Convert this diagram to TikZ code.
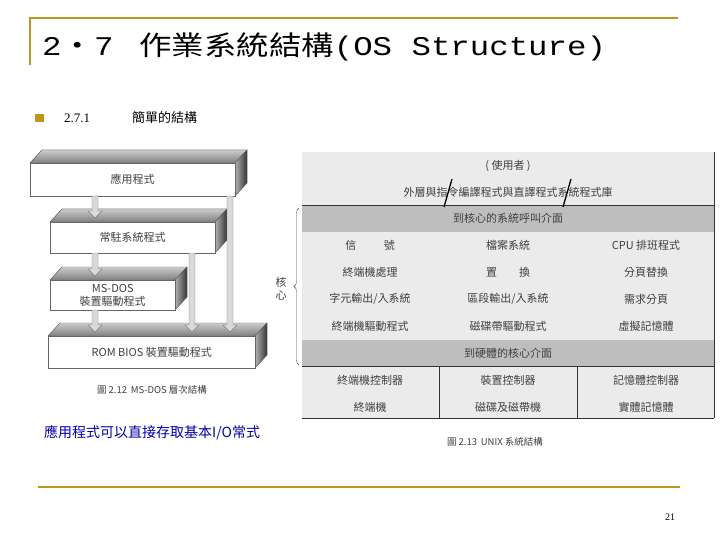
\documentclass[tikz,border=0pt]{standalone}
\usepackage{fontspec}
\setmainfont{Liberation Serif}
\setmonofont{Liberation Mono}
\newfontfamily\cjk{Noto Sans CJK TC}
\usetikzlibrary{decorations.pathreplacing}
\definecolor{gold}{RGB}{190,150,30}
\definecolor{panel}{RGB}{235,235,235}
\definecolor{band}{RGB}{190,190,190}
\definecolor{ttl}{RGB}{0,0,170}
\tikzset{
 lbl/.style={font=\cjk\fontsize{11}{13}\selectfont, text=black!75, inner sep=0pt},
 fronts/.style={draw=black!60, fill=white},
 tops/.style={draw=black!60, top color=black!20, bottom color=black!50},
 sides/.style={draw=black!60, left color=black!30, right color=black!80},
 arr/.style={draw=black!50, fill=black!15},
}
\newcommand{\boxthree}[6]{% x1 y1 x2 y2 name text
 \fill[tops] (#1,#2) -- ++(12,-13) -- (#3+12,#2-13) -- (#3,#2) -- cycle;
 \fill[sides] (#3,#2) -- ++(12,-13) -- (#3+12,#4-13) -- (#3,#4) -- cycle;
 \node[fronts, minimum width=#3-#1, minimum height=#4-#2, anchor=north west, inner sep=0pt, lbl, align=center] (#5) at (#1,#2) {#6};
}
\newcommand{\harrow}[3]{% x ytop ybot
 \fill[arr] (#1-3,#2) -- (#1+3,#2) -- (#1+3,#3-7) -- (#1+7,#3-7) -- (#1,#3) -- (#1-7,#3-7) -- (#1-3,#3-7) -- cycle;
}
\begin{document}
\begin{tikzpicture}[x=1pt,y=-1pt]
\useasboundingbox[fill=white] (0,0) rectangle (720,540);
% title frame
\draw[gold, line width=2pt] (30,65) -- (30,18) -- (678,18);
\draw[gold, line width=2pt] (38,487) -- (680,487);
\node[anchor=west, inner sep=0pt, xscale=1.2, transform shape, font=\ttfamily\fontsize{27}{30}\selectfont] (title) at (42,47)
 {2{\cjk ・}7\hspace{0.8em}{\cjk 作業系統結構}(OS Structure)};
\fill[gold] (35,114) rectangle (44,122);
\node[anchor=west, inner sep=0pt, font=\fontsize{13}{15}\selectfont] (sec) at (64,118) {2.7.1};
\node[anchor=west, inner sep=0pt, font=\cjk\fontsize{13}{15}\selectfont] (sect) at (132,118) {簡單的結構};
% left figure
\boxthree{30}{163}{235}{196}{app}{應用程式}
\boxthree{50}{222}{215}{253}{res}{常駐系統程式}
\boxthree{50}{280}{175}{310}{dev}{MS-DOS\\裝置驅動程式}
\fill[tops] (48,336) -- ++(12,-13) -- (267,323) -- (255,336) -- cycle;
\fill[sides] (255,336) -- ++(12,-13) -- (267,355) -- (255,368) -- cycle;
\node[fronts, minimum width=207, minimum height=32, anchor=north west, inner sep=0pt, lbl] (rom) at (48,336) {ROM BIOS 裝置驅動程式};
\harrow{95}{196}{218}
\harrow{95}{253}{276}
\harrow{95}{310}{332}
\harrow{192}{253}{332}
\harrow{230}{196}{332}
\node[lbl, font=\cjk\fontsize{9.5}{11}\selectfont] (cap1) at (152,390) {圖 2.12\, MS-DOS 層次結構};
% right figure
\fill[panel] (302,152) rectangle (714,418);
\fill[band] (302,205) rectangle (714,232);
\fill[band] (302,340) rectangle (714,366);
\draw[black!80] (302,205) -- (714,205);
\draw[black!80] (302,366) -- (714,366);
\draw[black!80] (302,418) -- (714,418);
\draw[black!80] (714,152) -- (714,418);
\draw[black!80] (439,366) -- (439,418);
\draw[black!80] (577,366) -- (577,418);
\node[lbl] (user) at (508,166) {( 使用者 )};
\node[lbl] (shell) at (508,192) {外層與指令編譯程式與直譯程式系統程式庫};
\node[lbl] (sci) at (508,218) {到核心的系統呼叫介面};
\node[lbl] (a1) at (370,245) {信\hspace{2.5em}號};
\node[lbl] (b1) at (508,245) {檔案系統};
\node[lbl] (c1) at (646,245) {CPU 排班程式};
\node[lbl] (a2) at (370,272) {終端機處理};
\node[lbl] (b2) at (508,272) {置\hspace{2em}換};
\node[lbl] (c2) at (646,272) {分頁替換};
\node[lbl] (a3) at (370,299) {字元輸出/入系統};
\node[lbl] (b3) at (508,299) {區段輸出/入系統};
\node[lbl] (c3) at (646,299) {需求分頁};
\node[lbl] (a4) at (370,326) {終端機驅動程式};
\node[lbl] (b4) at (508,326) {磁碟帶驅動程式};
\node[lbl] (c4) at (646,326) {虛擬記憶體};
\node[lbl] (hwi) at (508,353) {到硬體的核心介面};
\node[lbl] (a5) at (370,380) {終端機控制器};
\node[lbl] (b5) at (508,380) {裝置控制器};
\node[lbl] (c5) at (646,380) {記憶體控制器};
\node[lbl] (a6) at (370,407) {終端機};
\node[lbl] (b6) at (508,407) {磁碟及磁帶機};
\node[lbl] (c6) at (646,407) {實體記憶體};
\draw[line width=1.3pt] (444,207) -- (452,179);
\draw[line width=1.3pt] (563,207) -- (571,179);
\draw[black!70, decorate, decoration={brace, amplitude=5pt}] (299,365) -- (299,208);
\node[lbl, align=center] (kern) at (281,289) {核\\心};
\node[lbl, font=\cjk\fontsize{9.5}{11}\selectfont] (cap2) at (495,442) {圖 2.13\, UNIX 系統結構};
\node[anchor=west, inner sep=0pt, text=ttl, font=\cjk\fontsize{14}{16}\selectfont] (note) at (44,433) {應用程式可以直接存取基本I/O常式};
\node[inner sep=0pt, font=\fontsize{10}{12}\selectfont] (pg) at (670,517) {21};
\end{tikzpicture}
\end{document}
